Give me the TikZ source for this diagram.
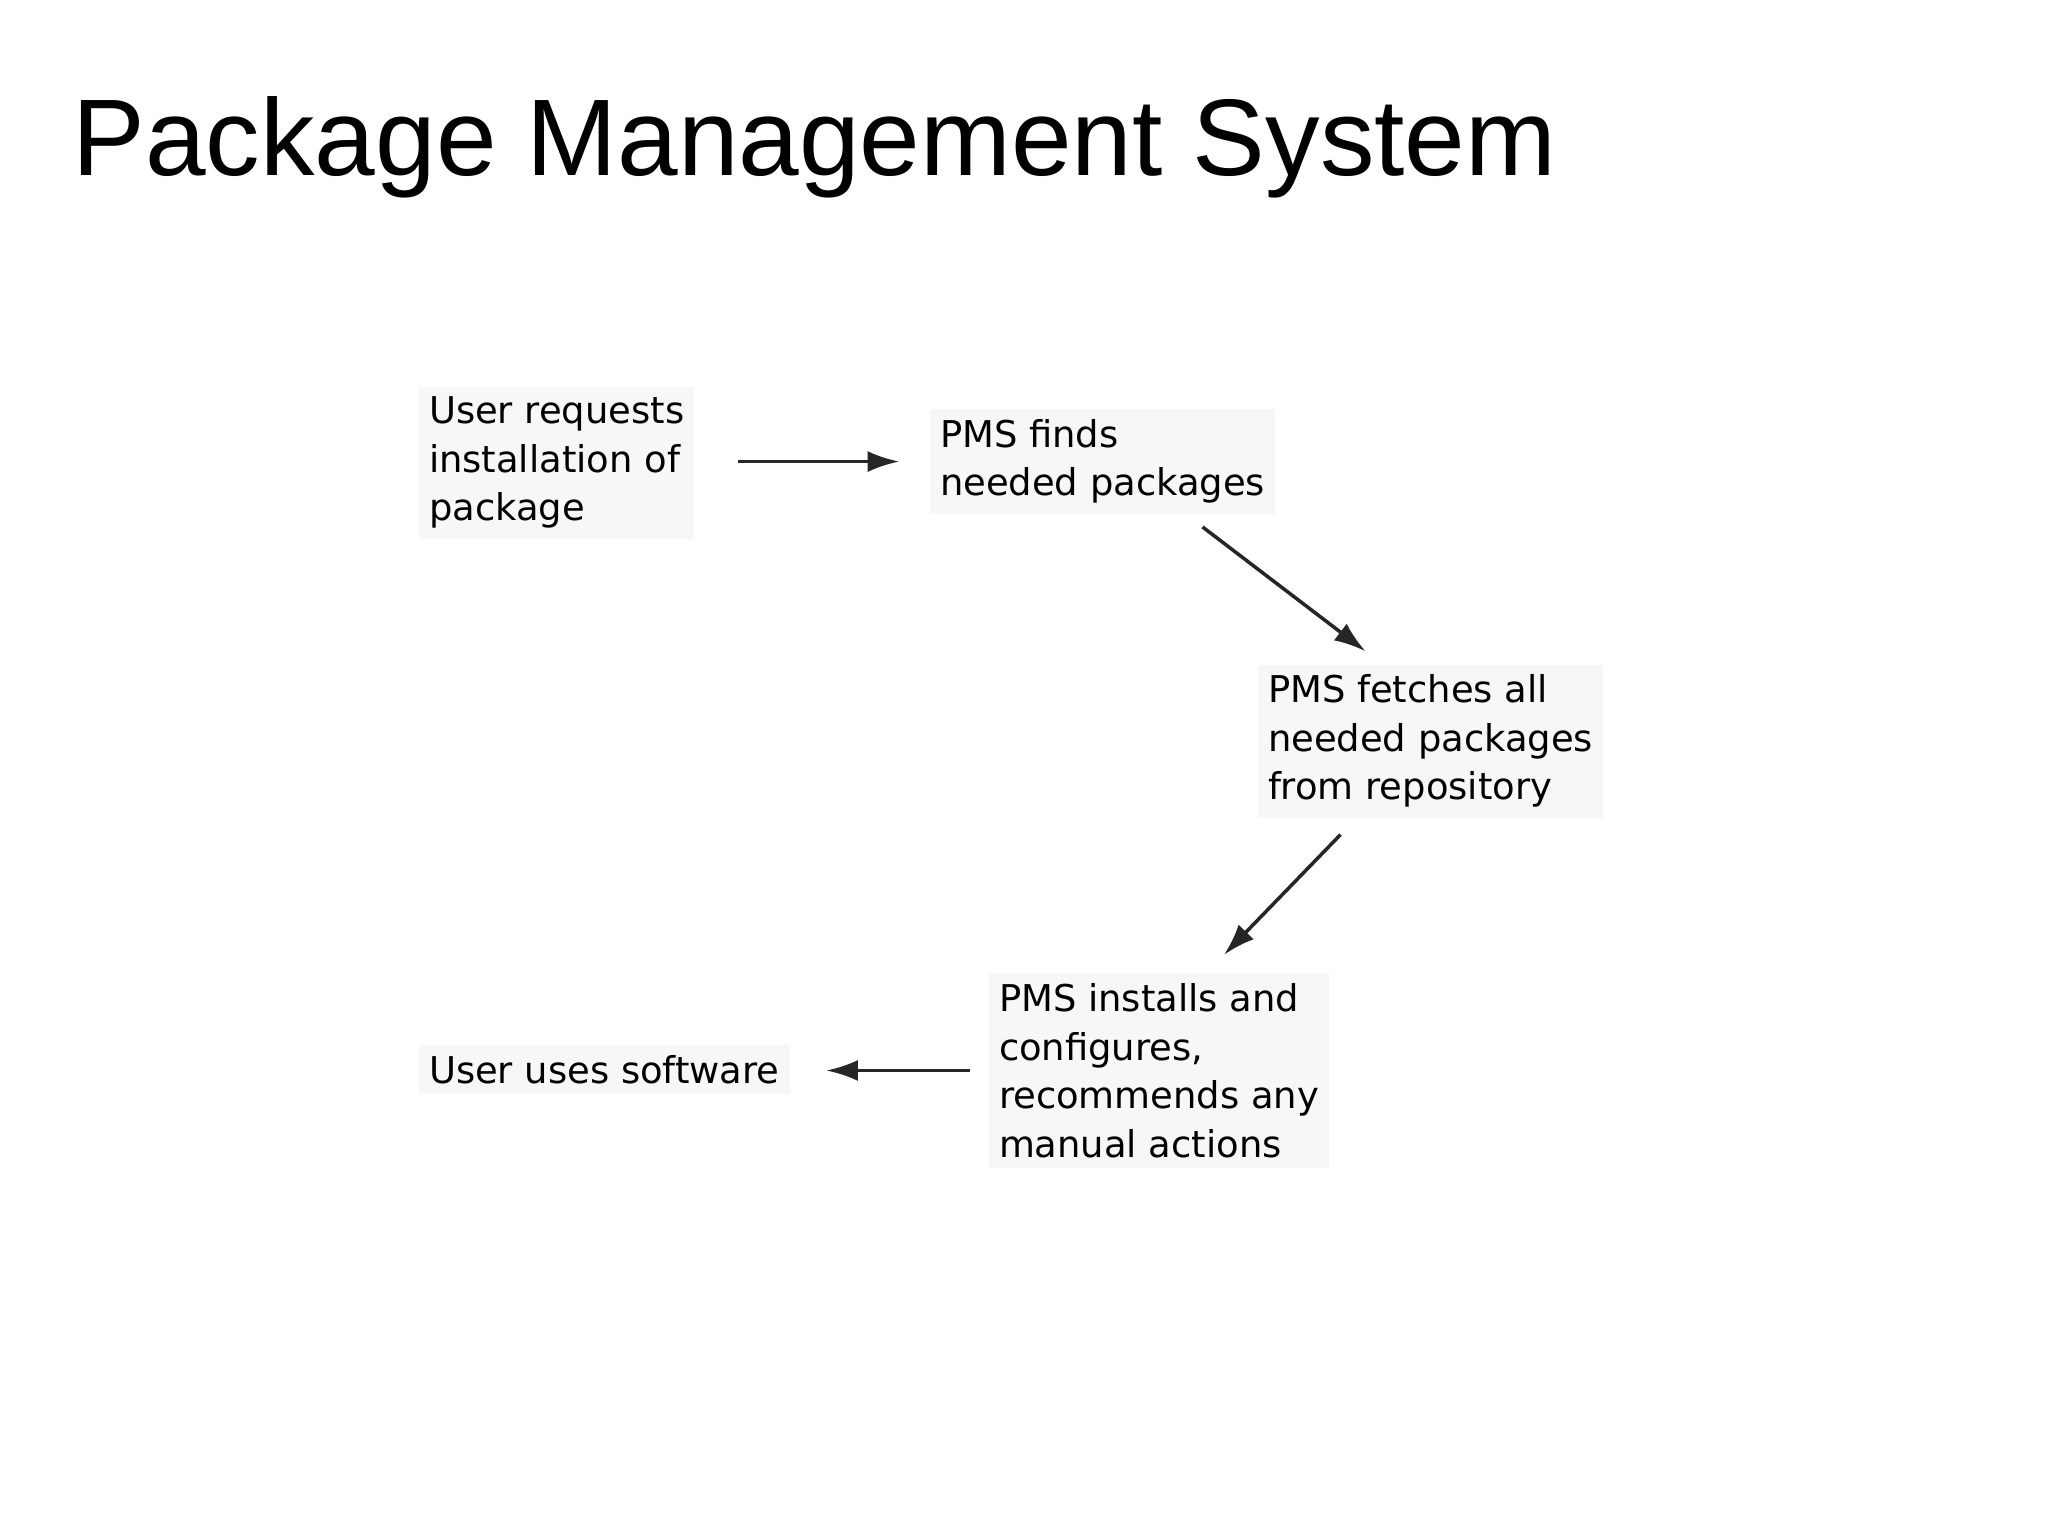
\documentclass[tikz,border=0pt]{standalone}
\usepackage{fontspec}
\setmainfont{DejaVu Sans}
\newfontfamily\titlefont{Liberation Sans}
\usepackage{tikz}
\usetikzlibrary{arrows.meta, positioning}

\begin{document}
\begin{tikzpicture}
[
    flow/.style = {draw = black!85, line width = 1pt, -{Latex[length = 9pt, width = 6pt]}},
    every node/.style = {inner sep = 0pt}
  ]

  \tikzset{BoxStyle/.style = {fill          = black!3,
                              align         = left,
                              anchor        = text,
                              inner sep     = 1mm,
                              font          = \fontsize{10.5}{13.8}\selectfont}}

  \fill[white] (0,0) rectangle (20.48,-15.36);
  \useasboundingbox (0,0) rectangle (20.48,-15.36);

  % title
  \node[anchor = base west, font = \titlefont\fontsize{31}{36}\selectfont] (title) at (0.72,-1.76) {Package Management System};

  % steps (anchored at the baseline of the last line)
  \node[BoxStyle] (req)   at (4.29,-5.21)  {User requests\\installation of\\package};
  \node[BoxStyle] (find)  at (9.40,-4.96)  {PMS finds\\needed packages};
  \node[BoxStyle] (fetch) at (12.68,-8.00) {PMS fetches all\\needed packages\\from repository};
  \node[BoxStyle] (inst)  at (9.99,-11.57) {PMS installs and\\configures,\\recommends any\\manual actions};
  \node[BoxStyle] (use)   at (4.29,-10.83) {User uses software};

  \draw[flow, shorten <= 4.3mm, shorten >= 3mm] (req.east |- find) -- (find);
  \draw[flow] ([xshift = 10mm, yshift = -1.26mm]find.south) -- ([xshift = -6.5mm, yshift = 1.3mm]fetch.north);
  \draw[flow] ([xshift = -9mm, yshift = -1.62mm]fetch.south) -- ([xshift = 6.5mm, yshift = 1.8mm]inst.north);
  \draw[flow, shorten <= 1.8mm, shorten >= 3.6mm] (inst) -- (inst -| use.east);

\end{tikzpicture}
\end{document}
